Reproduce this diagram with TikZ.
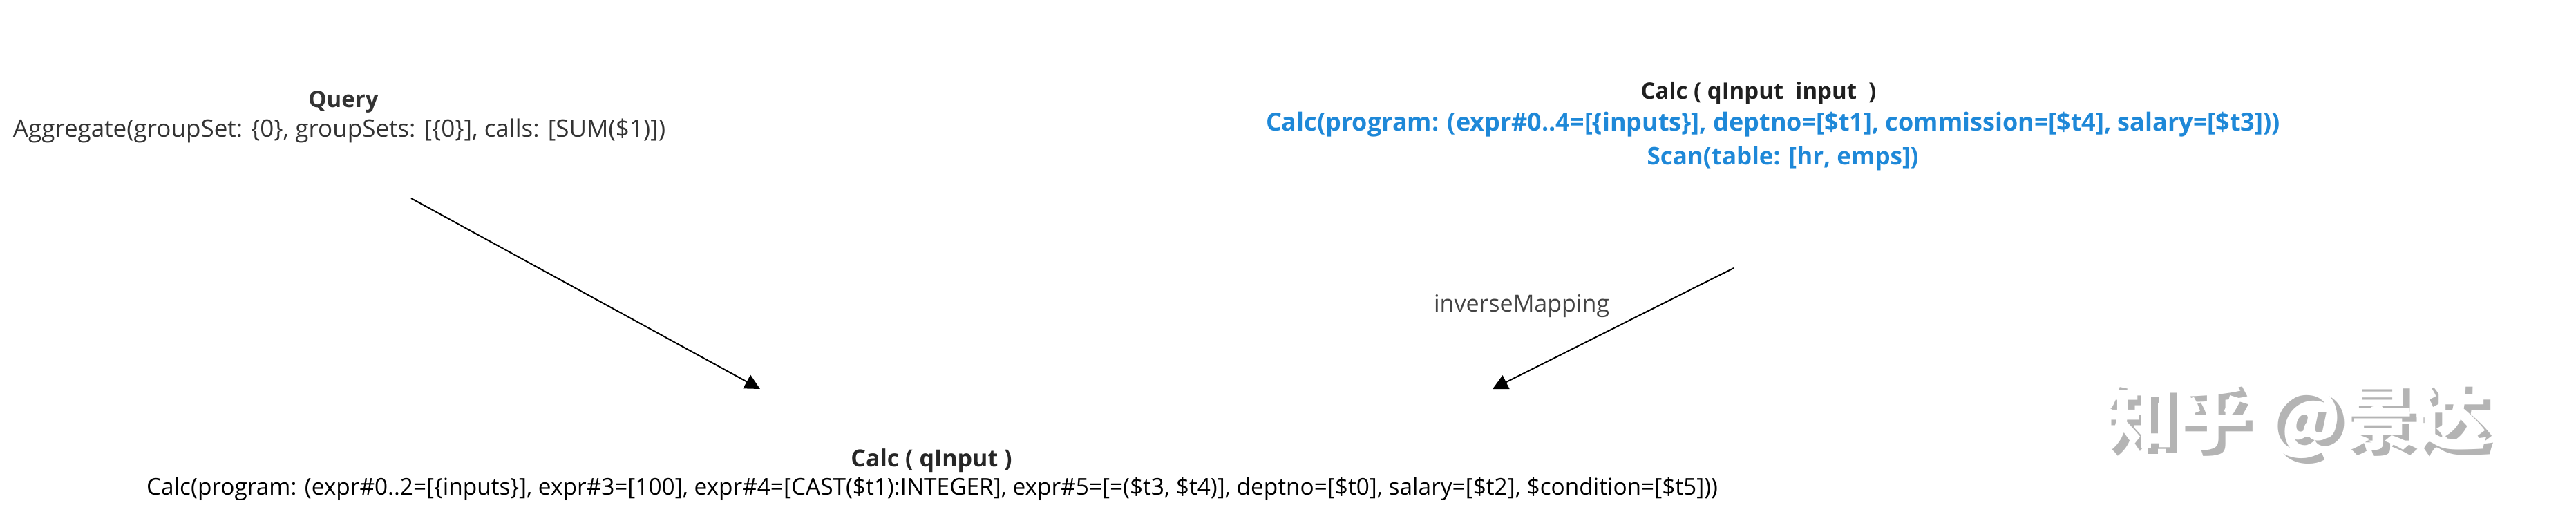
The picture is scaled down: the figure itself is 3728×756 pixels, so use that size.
\documentclass[tikz,border=0pt]{standalone}
\usepackage{fontspec}
\setmainfont{Open Sans}
\newfontfamily\cjkfont{Noto Sans CJK SC}
\usetikzlibrary{arrows.meta}
\definecolor{qgray}{HTML}{333333}
\definecolor{calcblue}{HTML}{1E88D8}
\definecolor{labgray}{HTML}{444444}
\definecolor{wmshadow}{HTML}{B4B4B4}
\newcommand{\wmtext}{知乎 @景达}
\begin{document}
\begin{tikzpicture}[x=1pt,y=-1pt,
  txt/.style={inner sep=0pt,outer sep=0pt,font=\fontsize{33}{38}\selectfont},
  ttl/.style={txt,font=\fontsize{33}{38}\selectfont\bfseries},
  bigbold/.style={txt,font=\fontsize{36}{40}\selectfont\bfseries},
  conn/.style={line width=2pt,-{Triangle[width=22pt,length=22pt]}}]
\useasboundingbox[fill=white] (0,0) rectangle (3728,756);
% top left block
\node[ttl,text=qgray,anchor=base] (qtitle) at (497,155) {Query};
\node[txt,text=qgray,anchor=base west,font=\fontsize{35}{40}\selectfont] (qagg) at (19,198) {Aggregate(groupSet: \{0\}, groupSets: [\{0\}], calls: [SUM(\$1)])};
% top right block
\node[ttl,text=black!88,anchor=base] (ctitle) at (2545,143) {Calc ( qInput~~input~~)};
\node[bigbold,text=calcblue,anchor=base west] (cprog) at (1832,189) {Calc(program: (expr\#0..4=[\{inputs\}], deptno=[\$t1], commission=[\$t4], salary=[\$t3]))};
\node[txt,font=\fontsize{35}{40}\selectfont\bfseries,text=calcblue,anchor=base] (cscan) at (2580,238) {Scan(table: [hr, emps])};
% bottom block
\node[ttl,text=black!85,anchor=base,font=\fontsize{34}{38}\selectfont\bfseries] (btitle) at (1348,675) {Calc ( qInput )};
\node[txt,text=black,anchor=base,font=\fontsize{33.4}{38}\selectfont] (bprog) at (1349,716) {Calc(program: (expr\#0..2=[\{inputs\}], expr\#3=[100], expr\#4=[CAST(\$t1):INTEGER], expr\#5=[=(\$t3, \$t4)], deptno=[\$t0], salary=[\$t2], \$condition=[\$t5]))};
% label
\node[txt,text=labgray,anchor=base west,font=\fontsize{34}{38}\selectfont] (lab) at (2075,451) {inverseMapping};
% connector end points
\coordinate (a1s) at (595,287);
\coordinate (a1e) at (1100,563);
\coordinate (a2s) at (2509,388);
\coordinate (a2e) at (2160,563);
\draw[conn] (a1s) -- (a1e);
\draw[conn] (a2s) -- (a2e);
% watermark (shadowed text in one node)
\node[inner sep=0pt,anchor=base west,font=\cjkfont\fontsize{106}{110}\selectfont\bfseries] (wm) at (3042,642)
  {\rlap{\hspace{10pt}\raisebox{-8pt}{\textcolor{wmshadow}{\wmtext}}}\textcolor{white}{\wmtext}};
\end{tikzpicture}
\end{document}
